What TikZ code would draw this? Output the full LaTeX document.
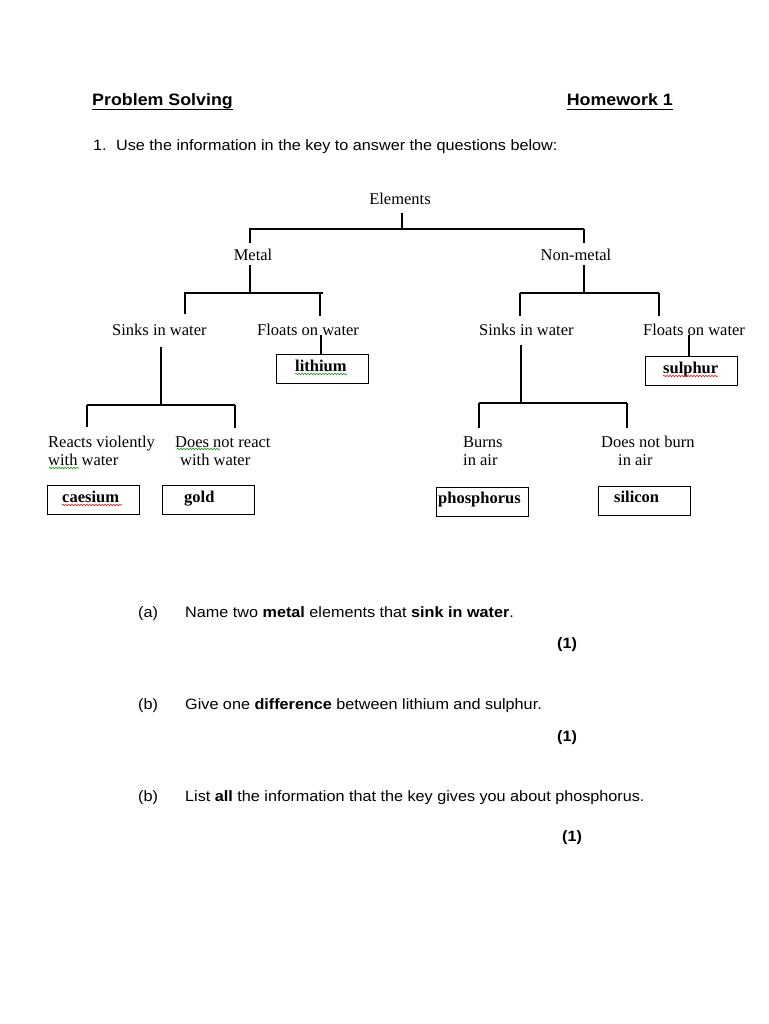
\documentclass[tikz,border=0pt]{standalone}
\usepackage{fontspec}
\setmainfont{Liberation Serif}
\newfontfamily\qfont[FakeStretch=1.08]{Liberation Sans}
\usetikzlibrary{decorations.pathmorphing}
\begin{document}
\begin{tikzpicture}[x=1pt,y=-1pt,
  tree/.style={line width=1.5pt},
  lbl/.style={font=\fontsize{16.5}{18}\selectfont, inner sep=0pt, anchor=base west},
  clbl/.style={font=\fontsize{16.5}{18}\selectfont, inner sep=0pt, anchor=base},
  elbox/.style={draw, line width=1.3pt, minimum width=92pt, minimum height=29pt, inner sep=0pt, anchor=north west},
  ename/.style={font=\bfseries\fontsize{16.5}{18}\selectfont, inner sep=0pt, anchor=base west},
  q/.style={font=\qfont\fontsize{15}{17}\selectfont, inner sep=0pt, anchor=base west},
  head/.style={font=\qfont\bfseries\fontsize{16.5}{18}\selectfont, inner sep=0pt, anchor=base west},
  squig/.style={decorate, decoration={snake, amplitude=0.7pt, segment length=3pt}, line width=0.6pt},
  ulr/.style={line width=1.2pt}
]
\useasboundingbox[fill=white] (0,0) rectangle (768,1024);

% header
\node[head] (ps) at (92,106) {Problem Solving};
\node[head, anchor=base east] (hw) at (673,106) {Homework 1};
\draw[ulr] (ps.base west) ++(0,3.5) -- ([yshift=-3.5pt]ps.base east);
\draw[ulr] (hw.base west) ++(0,3.5) -- ([yshift=-3.5pt]hw.base east);
\node[q] (n1) at (93,151) {1.};
\node[q] (intro) at (116,151) {Use the information in the key to answer the questions below:};

% tree labels
\node[clbl] (elem) at (400,205) {Elements};
\node[clbl] (metal) at (253,260) {Metal};
\node[clbl] (nonmetal) at (576,260) {Non-metal};
\node[lbl] (msink) at (112,335) {Sinks in water};
\node[lbl] (mfloat) at (257,335) {Floats on water};
\node[lbl] (nsink) at (479,335) {Sinks in water};
\node[lbl] (nfloat) at (643,335) {Floats on water};
\node[lbl] (react1) at (48,447) {Reacts violently};
\node[lbl] (react2) at (48,465) {with water};
\node[lbl] (noreact1) at (175,447) {Does not react};
\node[lbl] (noreact2) at (180,465) {with water};
\node[lbl] (burn1) at (463,447) {Burns};
\node[lbl] (burn2) at (463,465) {in air};
\node[lbl] (noburn1) at (601,447) {Does not burn};
\node[lbl] (noburn2) at (618,465) {in air};

% element boxes
\node[elbox] (libox) at (276,354) {};
\node[elbox] (sbox) at (645,356) {};
\node[elbox] (cbox) at (47,485) {};
\node[elbox] (gbox) at (162,485) {};
\node[elbox] (pbox) at (436,487) {};
\node[elbox] (sibox) at (598,486) {};
\node[ename] (li) at (295,371) {lithium};
\node[ename] (su) at (663,373) {sulphur};
\node[ename] (ca) at (62,502) {caesium};
\node[ename] (go) at (184,502) {gold};
\node[ename] (ph) at (438,503) {phosphorus};
\node[ename] (si) at (614,502) {silicon};

% spell-check marks
\draw[squig, red] (62,505) -- (122,505);
\draw[squig, red] (663,376) -- (718,376);
\draw[squig, green!60!black] (295,374) -- (347,374);
\draw[squig, green!60!black] (177,449) -- (220,449);
\draw[squig, green!60!black] (49,468) -- (79,468);

% junction coordinates
\coordinate (eJ) at (402,229);
\coordinate (eL) at (249,229);
\coordinate (eR) at (584,229);
\coordinate (mJ) at (250,293);
\coordinate (nJ) at (584,293);
\coordinate (msJ) at (161,405);
\coordinate (nsJ) at (521,403);

% connectors
\draw[tree] (402,213) -- (eJ);
\draw[tree] (eL) -- (eR);
\draw[tree] (250,229) -- (250,243);
\draw[tree] (eR) -- (584,243);
\draw[tree] (250,265) -- (mJ);
\draw[tree] (584,265) -- (nJ);
\draw[tree] (184,293) -- (323,293);
\draw[tree] (185,293) -- (185,314);
\draw[tree] (320,293) -- (320,316);
\draw[tree] (520,293) -- (659,293);
\draw[tree] (520,293) -- (520,316);
\draw[tree] (659,293) -- (659,316);
\draw[tree] (161,347) -- (msJ);
\draw[tree] (87,405) -- (235,405);
\draw[tree] (87,405) -- (87,427);
\draw[tree] (235,405) -- (235,428);
\draw[tree] (521,345) -- (nsJ);
\draw[tree] (479,403) -- (627,403);
\draw[tree] (479,403) -- (479,428);
\draw[tree] (627,403) -- (627,428);
\draw[tree] (321,335) -- (libox.north -| 321,0);
\draw[tree] (689,335) -- (sbox.north -| 689,0);

% questions
\node[q] (qa) at (138,617) {(a)};
\node[q] (qat) at (185,617) {Name two \textbf{metal} elements that \textbf{sink in water}.};
\node[q] (ma) at (557,648) {\textbf{(1)}};
\node[q] (qb) at (138,709) {(b)};
\node[q] (qbt) at (185,709) {Give one \textbf{difference} between lithium and sulphur.};
\node[q] (mb) at (557,741) {\textbf{(1)}};
\node[q] (qc) at (138,801) {(b)};
\node[q] (qct) at (185,801) {List \textbf{all} the information that the key gives you about phosphorus.};
\node[q] (mc) at (562,841) {\textbf{(1)}};
\end{tikzpicture}
\end{document}
